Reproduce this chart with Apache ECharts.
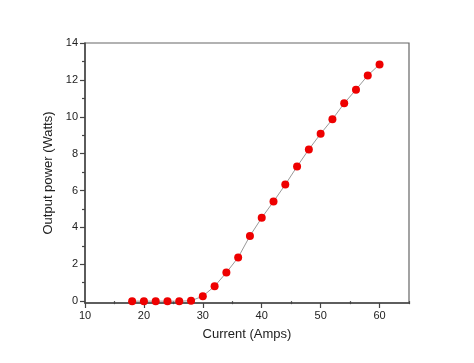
<!DOCTYPE html>
<html><head><meta charset="utf-8">
<script src="https://cdn.jsdelivr.net/npm/echarts@6/dist/echarts.min.js"></script>
<style>html,body{margin:0;padding:0;background:#fff}#c{width:474px;height:363px}</style>
</head><body><div id="c"></div>
<script>
const currents = [18,20,22,24,26,28,30,32,34,36,38,40,42,44,46,48,50,52,54,56,58,60];
const powers = [0,0,0,0,0,0.02,0.27,0.81,1.55,2.37,3.54,4.52,5.40,6.32,7.30,8.23,9.08,9.86,10.73,11.47,12.24,12.84];
const xMajor = [10,20,30,40,50,60];
const xMinor = [15,25,35,45,55,65];
const yMajor = [0,2,4,6,8,10,12,14];
const yMinor = [1,3,5,7,9,11,13];
const xTitle = 'Current (Amps)';
const yTitle = 'Output power (Watts)';

const font = 'Liberation Sans, Arial, sans-serif';
const axisCol = '#444';
const chart = echarts.init(document.getElementById('c'));
const baseX = {type:'value', min:10, max:65, position:'bottom',
  splitLine:{show:false}, axisLine:{onZero:false, lineStyle:{color:axisCol,width:1.5}}};
const baseY = {type:'value', min:-0.1, max:14, position:'left',
  splitLine:{show:false}, axisLine:{onZero:false, lineStyle:{color:axisCol,width:1.5}}};
chart.setOption({
  animation:false,
  grid:{left:85, right:65, top:43, bottom:60, show:true, borderColor:'#666', borderWidth:1.2},
  xAxis:[
    Object.assign({}, baseX, {
      name:xTitle, nameLocation:'middle', nameGap:25,
      nameTextStyle:{fontFamily:font, fontSize:13, color:'#222'},
      axisTick:{customValues:xMajor, length:5, inside:false, lineStyle:{color:axisCol,width:1.2}},
      axisLabel:{customValues:xMajor, fontFamily:font, fontSize:11, color:'#222', margin:7}
    }),
    Object.assign({}, baseX, {
      axisLine:{show:false},
      axisTick:{customValues:xMinor, length:3, lineStyle:{color:axisCol,width:1.2}},
      axisLabel:{show:false}
    })
  ],
  yAxis:[
    Object.assign({}, baseY, {
      name:yTitle, nameLocation:'middle', nameGap:30,
      nameTextStyle:{fontFamily:font, fontSize:13, color:'#222'},
      axisTick:{customValues:yMajor, length:5, lineStyle:{color:axisCol,width:1.2}},
      axisLabel:{customValues:yMajor, fontFamily:font, fontSize:11, color:'#222', margin:7}
    }),
    Object.assign({}, baseY, {
      axisLine:{show:false},
      axisTick:{customValues:yMinor, length:3, lineStyle:{color:axisCol,width:1.2}},
      axisLabel:{show:false}
    })
  ],
  series:[{
    type:'line', xAxisIndex:0, yAxisIndex:0,
    data: currents.map((c,i)=>[c, powers[i]]),
    symbol:'circle', symbolSize:8,
    itemStyle:{color:'#ee0000'},
    lineStyle:{color:'#999', width:1}
  }]
});
</script></body></html>
